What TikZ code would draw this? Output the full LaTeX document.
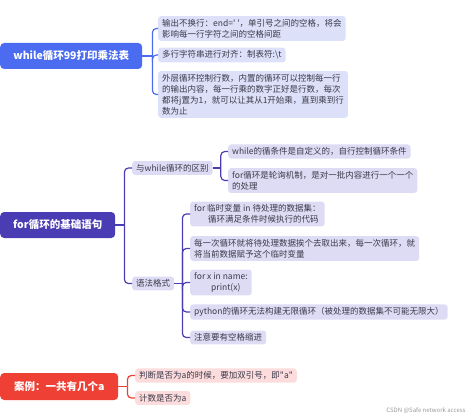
\documentclass[tikz,border=0pt]{standalone}
\usepackage{fontspec}
\setmainfont{Noto Sans CJK SC}
\usetikzlibrary{positioning}
\definecolor{rootblue}{HTML}{4B6CF0}
\definecolor{rootindigo}{HTML}{4A3DB3}
\definecolor{rootred}{HTML}{EE4035}
\definecolor{leafblue}{HTML}{DCE0F8}
\definecolor{leafindigo}{HTML}{DEDCF4}
\definecolor{leafred}{HTML}{FCDCDC}
\definecolor{leaftext}{HTML}{3A3A4A}
\tikzstyle{root} = [rectangle, rounded corners=4pt, anchor=west, minimum height=26pt, text centered, text=white, font=\fontsize{10.5}{12}\selectfont\bfseries]
\tikzstyle{leaf} = [rectangle, rounded corners=3pt, anchor=west, align=left, inner xsep=4pt, inner ysep=3pt, text=leaftext, font=\fontsize{8.5}{11}\selectfont]
\tikzstyle{branch} = [line width=1.2pt, rounded corners=4pt]

\begin{document}
\begin{tikzpicture}[x=1pt, y=-1pt]
\useasboundingbox (0,0) rectangle (474,420);
%
% while
\node (while_root) [root, fill=rootblue, minimum width=142pt] at (0,56) {while循环99打印乘法表};
\node (while_end) [leaf, fill=leafblue] at (158,28.5) {输出不换行：end=\textquotesingle\ \textquotesingle，单引号之间的空格，将会\\影响每一行字符之间的空格间距};
\node (while_tab) [leaf, fill=leafblue] at (158,55) {多行字符串进行对齐：制表符:\textbackslash t};
\node (while_outer) [leaf, fill=leafblue] at (158,94.5) {外层循环控制行数，内置的循环可以控制每一行\\的输出内容，每一行乘的数字正好是行数，每次\\都将j置为1，就可以让其从1开始乘，直到乘到行\\数为止};
%
% for
\node (for_root) [root, fill=rootindigo, minimum width=115pt] at (0,225) {for循环的基础语句};
\node (for_diff) [leaf, fill=leafindigo] at (132,168) {与while循环的区别};
\node (diff_while) [leaf, fill=leafindigo] at (228,151.5) {while的循条件是自定义的，自行控制循环条件};
\node (diff_for) [leaf, fill=leafindigo] at (228,180.5) {for循环是轮询机制，是对一批内容进行一个一个\\的处理};
\node (for_syntax) [leaf, fill=leafindigo] at (132,283.5) {语法格式};
\node (syn_form) [leaf, fill=leafindigo] at (190,214) {for 临时变量 in 待处理的数据集：\\\hspace*{14pt}循环满足条件时候执行的代码};
\node (syn_each) [leaf, fill=leafindigo] at (190,248.5) {每一次循环就将待处理数据挨个去取出来，每一次循环，就\\将当前数据赋予这个临时变量};
\node (syn_example) [leaf, fill=leafindigo] at (190,282.5) {for x in name:\\\hspace*{17pt}print(x)};
\node (syn_python) [leaf, fill=leafindigo] at (190,312) {python的循环无法构建无限循环（被处理的数据集不可能无限大）};
\node (syn_indent) [leaf, fill=leafindigo] at (190,337.5) {注意要有空格缩进};
%
% case
\node (case_root) [root, fill=rootred, minimum width=118pt, minimum height=27pt] at (0,386.5) {案例：一共有几个a};
\node (case_quote) [leaf, fill=leafred] at (135,375.5) {判断是否为a的时候，要加双引号，即\textquotedbl a\textquotedbl};
\node (case_count) [leaf, fill=leafred] at (135,398) {计数是否为a};
%
\node (mark) [anchor=east, text=black!40, font=\fontsize{6}{7}\selectfont] at (469,411) {CSDN @Safe network access};
%
\coordinate (while_j) at ([xshift=10pt]while_root.east);
\coordinate (for_j) at ([xshift=9pt]for_root.east);
\coordinate (diff_j) at ([xshift=8pt]for_diff.east);
\coordinate (syn_j) at ([xshift=8pt]for_syntax.east);
\coordinate (case_j) at ([xshift=9pt]case_root.east);
%
\draw [branch, draw=rootblue] (while_root) -- (while_j);
\draw [branch, draw=rootblue] (while_j) |- (while_end);
\draw [branch, draw=rootblue] (while_j) |- (while_tab);
\draw [branch, draw=rootblue] (while_j) |- (while_outer);
%
\draw [branch, draw=rootindigo] (for_root) -- (for_j);
\draw [branch, draw=rootindigo] (for_j) |- (for_diff);
\draw [branch, draw=rootindigo] (for_j) |- (for_syntax);
\draw [branch, draw=rootindigo] (for_diff) -- (diff_j);
\draw [branch, draw=rootindigo] (diff_j) |- (diff_while);
\draw [branch, draw=rootindigo] (diff_j) |- (diff_for);
\draw [branch, draw=rootindigo] (for_syntax) -- (syn_j);
\draw [branch, draw=rootindigo] (syn_j) |- (syn_form);
\draw [branch, draw=rootindigo] (syn_j) |- (syn_each);
\draw [branch, draw=rootindigo] (syn_j) |- (syn_example);
\draw [branch, draw=rootindigo] (syn_j) |- (syn_python);
\draw [branch, draw=rootindigo] (syn_j) |- (syn_indent);
%
\draw [branch, draw=rootred] (case_root) -- (case_j);
\draw [branch, draw=rootred] (case_j) |- (case_quote);
\draw [branch, draw=rootred] (case_j) |- (case_count);
%
\end{tikzpicture}
\end{document}
